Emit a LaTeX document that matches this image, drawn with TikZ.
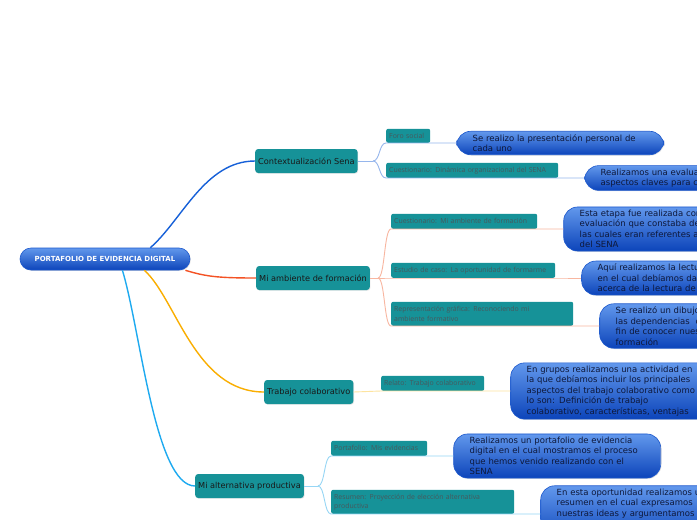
\documentclass[tikz,border=0pt]{standalone}
\usepackage{fontspec}
\newfontfamily\mapfont{DejaVu Sans}
\newfontfamily\leaffont{Open Sans}
\usetikzlibrary{positioning}
\usetikzlibrary{shadows}
\definecolor{mapteal}{RGB}{22,146,152}
\definecolor{pilltop}{RGB}{98,152,236}
\definecolor{pillbot}{RGB}{12,68,186}
\definecolor{pillline}{RGB}{28,88,205}
\definecolor{pilltext}{RGB}{14,24,58}
\definecolor{subtext}{RGB}{72,88,92}
\definecolor{ctxblue}{RGB}{22,96,216}
\definecolor{ctxlight}{RGB}{150,182,236}
\definecolor{ambred}{RGB}{244,82,36}
\definecolor{amblight}{RGB}{248,182,160}
\definecolor{traamber}{RGB}{250,174,0}
\definecolor{tralight}{RGB}{253,228,160}
\definecolor{altsky}{RGB}{30,170,240}
\definecolor{altlight}{RGB}{150,214,245}

\begin{document}
\begin{tikzpicture}[x=1pt,y=-1pt,node distance=26pt,
  root/.style={rectangle,rounded corners=11pt,top color=pilltop,bottom color=pillbot,draw=pillline,line width=.6pt,
    minimum width=170pt,minimum height=22pt,text=white,font=\mapfont\bfseries\fontsize{7}{8}\selectfont,
    drop shadow={opacity=.25,shadow xshift=.8pt,shadow yshift=-.8pt}},
  topic/.style={rectangle,rounded corners=3pt,fill=mapteal,minimum height=24pt,inner xsep=3pt,text=black!90,
    font=\mapfont\fontsize{8.2}{10}\selectfont,anchor=west,
    drop shadow={opacity=.2,shadow xshift=.7pt,shadow yshift=-.7pt}},
  sub/.style={rectangle,rounded corners=2pt,fill=mapteal,inner xsep=3pt,inner ysep=2pt,align=left,text=subtext,
    font=\leaffont\fontsize{6.9}{9.2}\selectfont,anchor=south west},
  pill/.style={rectangle,rounded corners=14pt,top color=pilltop,bottom color=pillbot,draw=pillline,line width=.6pt,
    inner xsep=16pt,inner ysep=3pt,text width=175pt,align=left,text=pilltext,
    font=\mapfont\fontsize{8.5}{10.5}\selectfont,
    drop shadow={opacity=.25,shadow xshift=.8pt,shadow yshift=-.8pt}},
  trunk/.style={line width=1.4pt},
  twig/.style={line width=.9pt}]
\useasboundingbox (0,0) rectangle (697,520);
\fill[white] (0,0) rectangle (697,520);

% root and main topics
\node[root] (root) at (105,259) {PORTAFOLIO DE EVIDENCIA DIGITAL};
\node[topic] (ctx) at (255,161) {Contextualización Sena};
\node[topic] (amb) at (256,278) {Mi ambiente de formación};
\node[topic] (tra) at (264,392) {Trabajo colaborativo};
\node[topic] (alt) at (195,486) {Mi alternativa productiva};

\draw[trunk,ctxblue] (root.14) .. controls +(32,-28) and +(-50,0) .. (ctx.west);
\draw[trunk,ambred] (root.-8) .. controls +(20,6) and +(-40,0) .. (amb.west);
\draw[trunk,traamber] (root.-16) .. controls +(32,29) and +(-69,0) .. (tra.west);
\draw[trunk,altsky] (root.-33) .. controls +(18,59) and +(-40,0) .. (alt.west);

% second level
\node[sub,text width=38pt,minimum height=14pt] (foro) at (386,143) {Foro social};
\node[sub,text width=166pt,minimum height=15pt] (cdin) at (386,178) {Cuestionario: Dinámica organizacional del SENA};
\node[sub,text width=140pt,minimum height=15pt] (camb) at (391,229) {Cuestionario: Mi ambiente de formación};
\node[sub,text width=158pt,minimum height=15pt] (est) at (391,278) {Estudio de caso: La oportunidad de formarme};
\node[sub,text width=176pt,minimum height=24pt] (rep) at (391,326) {Representación gráfica: Reconociendo mi\\ambiente formativo};
\node[sub,text width=97pt,minimum height=15pt] (rel) at (381,391) {Relato: Trabajo colaborativo};
\node[sub,text width=90pt,minimum height=15pt] (port) at (331,456) {Portafolio: Mis evidencias};
\node[sub,text width=177pt,minimum height=24pt] (res) at (331,514) {Resumen: Proyección de elección alternativa\\productiva};

% third level
\node[pill,right=of foro.south east] (p1) {Se realizo la presentación personal de\\cada uno};
\node[pill,right=of cdin.south east] (p2) {Realizamos una evalua\\aspectos claves para c};
\node[pill,right=of camb.south east] (p3) {Esta etapa fue realizada con\\evaluación que constaba de\\las cuales eran referentes a\\del SENA};
\node[pill,right=of est.south east] (p4) {Aquí realizamos la lectu\\en el cual debíamos da\\acerca de la lectura de};
\node[pill,right=of rep.south east] (p5) {Se realizó un dibujo\\las dependencias\ \ c\\fin de conocer nues\\formación};
\node[pill,right=of rel.south east] (p6) {En grupos realizamos una actividad en\\la que debíamos incluir los principales\\aspectos del trabajo colaborativo como\\lo son: Definición de trabajo\\colaborativo, características, ventajas};
\node[pill,right=of port.south east] (p7) {Realizamos un portafolio de evidencia\\digital en el cual mostramos el proceso\\que hemos venido realizando con el\\SENA};
\node[pill,text depth=44pt,right=of res.south east] (p8) {En esta oportunidad realizamos u\\resumen en el cual expresamos\\nuestras ideas y argumentamos};

% forks
\coordinate (ctxfork) at (373,161);
\coordinate (ambfork) at (378,278);
\coordinate (altfork) at (318,486);

\draw[twig,ctxlight] (ctx.east) -- (ctxfork);
\draw[twig,ctxlight] (ctxfork) .. controls +(7,0) and +(-7,0) .. (foro.south west) -- (foro.south east) -- (p1.west);
\draw[twig,ctxlight] (ctxfork) .. controls +(7,0) and +(-7,0) .. (cdin.south west) -- (cdin.south east) -- (p2.west);

\draw[twig,amblight] (amb.east) -- (ambfork);
\draw[twig,amblight] (ambfork) .. controls +(7,0) and +(-7,0) .. (camb.south west) -- (camb.south east) -- (p3.west);
\draw[twig,amblight] (ambfork) -- (est.south west) -- (est.south east) -- (p4.west);
\draw[twig,amblight] (ambfork) .. controls +(7,0) and +(-7,0) .. (rep.south west) -- (rep.south east) -- (p5.west);

\draw[twig,tralight] (tra.east) -- (rel.south west) -- (rel.south east) -- (p6.west);

\draw[twig,altlight] (alt.east) -- (altfork);
\draw[twig,altlight] (altfork) .. controls +(7,0) and +(-7,0) .. (port.south west) -- (port.south east) -- (p7.west);
\draw[twig,altlight] (altfork) .. controls +(7,0) and +(-7,0) .. (res.south west) -- (res.south east) -- (p8.west);

\end{tikzpicture}
\end{document}
